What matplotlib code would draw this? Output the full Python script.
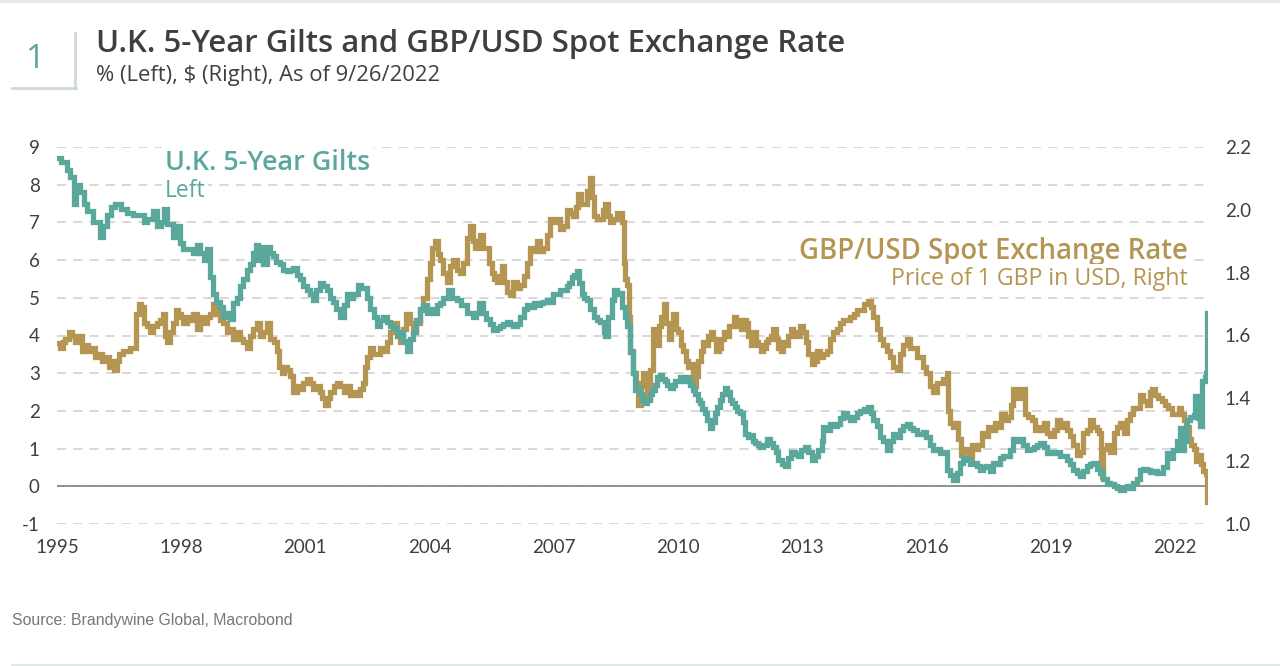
import matplotlib
matplotlib.use("Agg")
import matplotlib.pyplot as plt
from matplotlib.lines import Line2D

# ---------------- data ----------------
gilt_dates = [
    1995.0, 1995.1, 1995.24, 1995.32, 1995.4, 1995.45, 1995.56, 1995.65, 1995.72, 1995.88,
    1996.04, 1996.12, 1996.2, 1996.3, 1996.4, 1996.55, 1996.69, 1996.84, 1997.0, 1997.1,
    1997.17, 1997.33, 1997.42, 1997.5, 1997.58, 1997.66, 1997.8, 1997.87, 1997.97, 1998.05,
    1998.13, 1998.29, 1998.38, 1998.45, 1998.55, 1998.62, 1998.7, 1998.77, 1998.85, 1998.94,
    1999.02, 1999.1, 1999.18, 1999.26, 1999.35, 1999.42, 1999.5, 1999.58, 1999.66, 1999.74,
    1999.8, 1999.86, 1999.92, 1999.98, 2000.07, 2000.15, 2000.22, 2000.3, 2000.38, 2000.46,
    2000.55, 2000.62, 2000.71, 2000.79, 2000.87, 2000.95, 2001.03, 2001.11, 2001.19, 2001.25,
    2001.35, 2001.43, 2001.51, 2001.59, 2001.67, 2001.75, 2001.83, 2001.92, 2002.0, 2002.08,
    2002.15, 2002.28, 2002.34, 2002.4, 2002.48, 2002.56, 2002.65, 2002.73, 2002.81, 2002.87,
    2002.96, 2003.04, 2003.12, 2003.2, 2003.28, 2003.36, 2003.45, 2003.52, 2003.6, 2003.68,
    2003.77, 2003.85, 2003.93, 2004.0, 2004.09, 2004.17, 2004.25, 2004.33, 2004.45, 2004.55,
    2004.65, 2004.75, 2004.9, 2005.05, 2005.13, 2005.2, 2005.28, 2005.37, 2005.45, 2005.53,
    2005.62, 2005.7, 2005.78, 2005.86, 2005.94, 2006.02, 2006.1, 2006.18, 2006.27, 2006.35,
    2006.43, 2006.51, 2006.59, 2006.67, 2006.75, 2006.83, 2006.91, 2006.99, 2007.07, 2007.15,
    2007.23, 2007.31, 2007.37, 2007.43, 2007.49, 2007.55, 2007.61, 2007.67, 2007.73, 2007.79,
    2007.88, 2007.96, 2008.04, 2008.12, 2008.2, 2008.24, 2008.32, 2008.4, 2008.46, 2008.52,
    2008.6, 2008.65, 2008.72, 2008.77, 2008.84, 2008.9, 2008.96, 2009.02, 2009.08, 2009.14,
    2009.2, 2009.26, 2009.32, 2009.38, 2009.44, 2009.5, 2009.56, 2009.62, 2009.68, 2009.74,
    2009.8, 2009.87, 2009.93, 2010.05, 2010.11, 2010.17, 2010.23, 2010.29, 2010.35, 2010.41,
    2010.47, 2010.53, 2010.59, 2010.65, 2010.71, 2010.77, 2010.83, 2010.89, 2010.95, 2011.01,
    2011.07, 2011.13, 2011.19, 2011.25, 2011.31, 2011.37, 2011.43, 2011.5, 2011.56, 2011.62,
    2011.68, 2011.74, 2011.8, 2011.86, 2011.92, 2011.98, 2012.06, 2012.14, 2012.22, 2012.3,
    2012.36, 2012.42, 2012.5, 2012.58, 2012.66, 2012.74, 2012.82, 2012.9, 2012.98, 2013.07,
    2013.15, 2013.23, 2013.31, 2013.39, 2013.47, 2013.51, 2013.59, 2013.67, 2013.75, 2013.83,
    2013.91, 2013.99, 2014.08, 2014.16, 2014.24, 2014.32, 2014.4, 2014.48, 2014.54, 2014.6,
    2014.66, 2014.72, 2014.8, 2014.88, 2014.96, 2015.04, 2015.12, 2015.2, 2015.28, 2015.36,
    2015.44, 2015.52, 2015.6, 2015.68, 2015.76, 2015.84, 2015.92, 2016.0, 2016.08, 2016.17,
    2016.25, 2016.33, 2016.41, 2016.49, 2016.57, 2016.65, 2016.73, 2016.81, 2016.89, 2016.97,
    2017.05, 2017.13, 2017.21, 2017.29, 2017.37, 2017.45, 2017.53, 2017.61, 2017.69, 2017.77,
    2017.85, 2017.94, 2018.02, 2018.1, 2018.18, 2018.26, 2018.34, 2018.42, 2018.5, 2018.59,
    2018.67, 2018.75, 2018.83, 2018.91, 2018.99, 2019.07, 2019.15, 2019.23, 2019.31, 2019.39,
    2019.47, 2019.55, 2019.63, 2019.71, 2019.79, 2019.87, 2019.95, 2020.03, 2020.11, 2020.19,
    2020.27, 2020.36, 2020.44, 2020.52, 2020.6, 2020.68, 2020.76, 2020.84, 2020.92, 2021.0,
    2021.08, 2021.16, 2021.24, 2021.32, 2021.4, 2021.48, 2021.56, 2021.64, 2021.72, 2021.8,
    2021.88, 2021.96, 2022.05, 2022.13, 2022.17, 2022.21, 2022.29, 2022.37, 2022.45, 2022.49,
    2022.55, 2022.6, 2022.65, 2022.72, 2022.76, 2022.78,
]
gilt_values = [
    8.7, 8.6, 8.4, 8.2, 7.5, 8.0, 7.8, 7.5, 7.3, 7.0,
    6.6, 6.9, 7.2, 7.4, 7.5, 7.35, 7.25, 7.2, 7.2, 7.0,
    7.1, 7.3, 6.9, 7.0, 7.35, 6.95, 6.6, 6.9, 6.45, 6.3,
    6.3, 6.2, 6.4, 6.2, 6.0, 6.3, 5.55, 5.1, 4.9, 4.75,
    4.5, 4.6, 4.45, 4.85, 5.0, 5.3, 5.5, 5.75, 5.9, 6.2,
    6.4, 6.0, 6.35, 5.9, 6.35, 6.2, 6.1, 5.95, 5.9, 5.75,
    5.7, 5.75, 5.8, 5.6, 5.5, 5.3, 5.2, 5.1, 4.95, 5.2,
    5.4, 5.3, 5.2, 5.0, 4.9, 4.7, 4.5, 4.8, 5.1, 5.0,
    5.1, 5.35, 5.25, 5.25, 5.0, 4.7, 4.5, 4.25, 4.4, 4.5,
    4.35, 4.25, 4.2, 4.0, 4.1, 3.85, 3.6, 3.9, 4.1, 4.4,
    4.7, 4.8, 4.6, 4.7, 4.6, 4.8, 4.85, 5.0, 5.2, 5.0,
    4.95, 4.8, 4.6, 4.5, 4.6, 4.85, 4.6, 4.45, 4.3, 4.15,
    4.2, 4.25, 4.3, 4.35, 4.3, 4.25, 4.3, 4.5, 4.7, 4.8,
    4.75, 4.85, 4.8, 4.85, 4.9, 4.95, 4.9, 5.1, 5.1, 5.2,
    5.2, 5.3, 5.4, 5.55, 5.6, 5.7, 5.4, 5.1, 5.0, 4.95,
    4.7, 4.5, 4.4, 4.35, 4.1, 4.0, 4.5, 4.95, 5.2, 5.1,
    5.13, 4.75, 4.5, 4.25, 3.55, 3.0, 2.55, 2.6, 2.45, 2.3,
    2.2, 2.3, 2.45, 2.55, 2.7, 2.9, 2.95, 2.85, 2.8, 2.7,
    2.6, 2.7, 2.8, 2.9, 2.8, 2.9, 2.8, 2.7, 2.55, 2.45,
    2.3, 2.2, 2.05, 1.95, 1.75, 1.55, 1.7, 1.95, 2.1, 2.3,
    2.45, 2.6, 2.5, 2.3, 2.2, 2.1, 2.0, 1.95, 1.7, 1.4,
    1.3, 1.35, 1.2, 1.15, 1.1, 1.05, 1.1, 1.25, 1.15, 1.05,
    0.9, 0.7, 0.6, 0.55, 0.75, 0.9, 0.85, 0.8, 0.95, 1.05,
    0.9, 0.7, 0.8, 0.95, 1.2, 1.58, 1.5, 1.65, 1.6, 1.65,
    1.8, 1.95, 1.85, 1.75, 1.85, 1.95, 2.0, 2.05, 2.0, 2.1,
    1.95, 1.75, 1.6, 1.3, 1.2, 0.97, 1.2, 1.4, 1.3, 1.5,
    1.6, 1.65, 1.55, 1.5, 1.4, 1.4, 1.45, 1.3, 1.1, 0.97,
    1.0, 0.88, 0.9, 0.44, 0.3, 0.18, 0.35, 0.62, 0.75, 0.7,
    0.6, 0.62, 0.55, 0.44, 0.5, 0.53, 0.4, 0.62, 0.6, 0.75,
    0.8, 0.8, 0.95, 1.25, 1.2, 1.25, 1.1, 0.97, 1.0, 1.05,
    1.1, 1.15, 1.05, 0.88, 0.9, 0.88, 0.9, 0.8, 0.8, 0.7,
    0.6, 0.44, 0.35, 0.27, 0.4, 0.53, 0.58, 0.62, 0.45, 0.35,
    0.2, 0.09, 0.05, 0.0, -0.05, -0.09, -0.05, 0.0, -0.05, 0.09,
    0.2, 0.44, 0.45, 0.44, 0.38, 0.4, 0.35, 0.35, 0.5, 0.88,
    0.75, 0.97, 1.2, 1.55, 0.95, 1.2, 1.75, 1.85, 1.9, 2.4,
    1.8, 1.6, 2.8, 2.9, 3.0, 4.6,
]

gbp_dates = [
    1995.0, 1995.08, 1995.14, 1995.2, 1995.3, 1995.37, 1995.44, 1995.52, 1995.6, 1995.68,
    1995.76, 1995.84, 1995.92, 1996.0, 1996.08, 1996.16, 1996.25, 1996.31, 1996.37, 1996.44,
    1996.5, 1996.6, 1996.69, 1996.76, 1996.84, 1996.9, 1996.97, 1997.04, 1997.1, 1997.18,
    1997.25, 1997.33, 1997.41, 1997.49, 1997.57, 1997.62, 1997.65, 1997.72, 1997.81, 1997.87,
    1997.93, 1998.0, 1998.05, 1998.13, 1998.21, 1998.29, 1998.37, 1998.45, 1998.53, 1998.62,
    1998.7, 1998.76, 1998.81, 1998.88, 1998.94, 1999.02, 1999.1, 1999.18, 1999.26, 1999.34,
    1999.42, 1999.5, 1999.58, 1999.66, 1999.74, 1999.82, 1999.9, 1999.98, 2000.07, 2000.15,
    2000.23, 2000.31, 2000.37, 2000.43, 2000.49, 2000.55, 2000.63, 2000.71, 2000.79, 2000.87,
    2000.95, 2001.03, 2001.11, 2001.19, 2001.27, 2001.35, 2001.41, 2001.47, 2001.54, 2001.6,
    2001.68, 2001.76, 2001.84, 2001.92, 2002.0, 2002.08, 2002.16, 2002.24, 2002.32, 2002.4,
    2002.44, 2002.48, 2002.56, 2002.64, 2002.73, 2002.81, 2002.89, 2002.96, 2003.04, 2003.12,
    2003.2, 2003.28, 2003.36, 2003.44, 2003.52, 2003.6, 2003.68, 2003.77, 2003.85, 2003.93,
    2004.0, 2004.05, 2004.12, 2004.2, 2004.25, 2004.33, 2004.41, 2004.49, 2004.57, 2004.65,
    2004.73, 2004.81, 2004.9, 2004.98, 2005.04, 2005.1, 2005.16, 2005.22, 2005.3, 2005.37,
    2005.44, 2005.5, 2005.56, 2005.62, 2005.68, 2005.74, 2005.8, 2005.86, 2005.94, 2006.02,
    2006.1, 2006.18, 2006.27, 2006.35, 2006.43, 2006.51, 2006.59, 2006.67, 2006.75, 2006.83,
    2006.91, 2006.99, 2007.07, 2007.15, 2007.23, 2007.31, 2007.39, 2007.47, 2007.53, 2007.59,
    2007.65, 2007.72, 2007.8, 2007.88, 2007.93, 2007.96, 2008.04, 2008.12, 2008.18, 2008.24,
    2008.3, 2008.36, 2008.44, 2008.52, 2008.6, 2008.65, 2008.69, 2008.73, 2008.77, 2008.82,
    2008.85, 2008.92, 2008.98, 2009.04, 2009.1, 2009.16, 2009.24, 2009.32, 2009.4, 2009.46,
    2009.53, 2009.59, 2009.65, 2009.71, 2009.77, 2009.83, 2009.89, 2009.95, 2010.01, 2010.07,
    2010.13, 2010.19, 2010.25, 2010.31, 2010.37, 2010.43, 2010.49, 2010.55, 2010.61, 2010.67,
    2010.73, 2010.79, 2010.85, 2010.92, 2010.98, 2011.04, 2011.1, 2011.16, 2011.22, 2011.28,
    2011.34, 2011.4, 2011.46, 2011.52, 2011.58, 2011.64, 2011.7, 2011.76, 2011.82, 2011.88,
    2011.94, 2012.0, 2012.06, 2012.12, 2012.18, 2012.24, 2012.3, 2012.36, 2012.42, 2012.48,
    2012.54, 2012.6, 2012.66, 2012.72, 2012.78, 2012.86, 2012.95, 2013.02, 2013.08, 2013.15,
    2013.23, 2013.29, 2013.35, 2013.43, 2013.51, 2013.59, 2013.67, 2013.75, 2013.83, 2013.91,
    2013.99, 2014.08, 2014.16, 2014.24, 2014.32, 2014.4, 2014.48, 2014.54, 2014.6, 2014.66,
    2014.72, 2014.8, 2014.88, 2014.96, 2015.04, 2015.12, 2015.2, 2015.28, 2015.36, 2015.44,
    2015.52, 2015.6, 2015.68, 2015.76, 2015.84, 2015.92, 2016.0, 2016.08, 2016.17, 2016.25,
    2016.33, 2016.41, 2016.49, 2016.51, 2016.57, 2016.65, 2016.71, 2016.77, 2016.83, 2016.89,
    2016.97, 2017.03, 2017.09, 2017.17, 2017.25, 2017.33, 2017.41, 2017.49, 2017.57, 2017.65,
    2017.73, 2017.81, 2017.89, 2017.97, 2018.04, 2018.1, 2018.18, 2018.26, 2018.3, 2018.38,
    2018.46, 2018.54, 2018.62, 2018.71, 2018.77, 2018.83, 2018.91, 2018.99, 2019.07, 2019.15,
    2019.23, 2019.31, 2019.39, 2019.47, 2019.55, 2019.63, 2019.71, 2019.79, 2019.87, 2019.95,
    2020.03, 2020.11, 2020.17, 2020.22, 2020.24, 2020.27, 2020.36, 2020.44, 2020.52, 2020.6,
    2020.68, 2020.76, 2020.84, 2020.92, 2021.0, 2021.08, 2021.16, 2021.24, 2021.32, 2021.4,
    2021.44, 2021.52, 2021.6, 2021.68, 2021.76, 2021.84, 2021.92, 2022.0, 2022.09, 2022.15,
    2022.21, 2022.27, 2022.33, 2022.39, 2022.45, 2022.51, 2022.57, 2022.63, 2022.69, 2022.75,
    2022.78,
]
gbp_values = [
    1.575, 1.56, 1.58, 1.59, 1.61, 1.60, 1.58, 1.60, 1.55, 1.57,
    1.55, 1.56, 1.53, 1.54, 1.52, 1.53, 1.50, 1.52, 1.49, 1.52,
    1.54, 1.55, 1.55, 1.56, 1.56, 1.67, 1.70, 1.69, 1.64, 1.63,
    1.61, 1.63, 1.64, 1.65, 1.67, 1.60, 1.58, 1.61, 1.64, 1.68,
    1.67, 1.66, 1.64, 1.66, 1.65, 1.67, 1.62, 1.66, 1.64, 1.66,
    1.67, 1.70, 1.67, 1.68, 1.65, 1.64, 1.61, 1.62, 1.59, 1.61,
    1.59, 1.58, 1.56, 1.60, 1.62, 1.64, 1.60, 1.61, 1.64, 1.59,
    1.58, 1.55, 1.50, 1.48, 1.50, 1.49, 1.47, 1.42, 1.44, 1.43,
    1.45, 1.46, 1.45, 1.43, 1.44, 1.42, 1.40, 1.38, 1.40, 1.42,
    1.44, 1.45, 1.44, 1.42, 1.44, 1.41, 1.42, 1.41, 1.43, 1.45,
    1.50, 1.53, 1.56, 1.54, 1.54, 1.56, 1.55, 1.58, 1.61, 1.64,
    1.61, 1.58, 1.62, 1.67, 1.64, 1.61, 1.64, 1.68, 1.72, 1.78,
    1.83, 1.88, 1.90, 1.86, 1.84, 1.80, 1.77, 1.82, 1.84, 1.81,
    1.80, 1.83, 1.91, 1.95, 1.90, 1.88, 1.90, 1.92, 1.88, 1.88,
    1.83, 1.80, 1.78, 1.77, 1.79, 1.82, 1.77, 1.74, 1.73, 1.77,
    1.75, 1.76, 1.79, 1.83, 1.88, 1.87, 1.90, 1.87, 1.88, 1.92,
    1.97, 1.96, 1.97, 1.94, 1.95, 2.00, 1.99, 1.98, 2.01, 2.05,
    2.02, 2.02, 2.06, 2.10, 2.04, 1.98, 1.97, 1.97, 2.00, 2.02,
    1.98, 1.96, 1.97, 1.99, 1.99, 1.96, 1.83, 1.78, 1.76, 1.66,
    1.55, 1.48, 1.45, 1.38, 1.44, 1.48, 1.40, 1.49, 1.62, 1.57,
    1.63, 1.66, 1.70, 1.64, 1.59, 1.63, 1.67, 1.62, 1.61, 1.57,
    1.55, 1.52, 1.50, 1.51, 1.44, 1.47, 1.52, 1.55, 1.58, 1.57,
    1.60, 1.61, 1.59, 1.55, 1.56, 1.59, 1.61, 1.60, 1.63, 1.63,
    1.66, 1.63, 1.65, 1.62, 1.65, 1.64, 1.60, 1.57, 1.61, 1.58,
    1.57, 1.55, 1.56, 1.58, 1.59, 1.60, 1.62, 1.59, 1.56, 1.55,
    1.58, 1.57, 1.60, 1.62, 1.61, 1.60, 1.63, 1.61, 1.58, 1.54,
    1.51, 1.52, 1.55, 1.53, 1.54, 1.55, 1.59, 1.61, 1.62, 1.64,
    1.65, 1.65, 1.66, 1.67, 1.68, 1.68, 1.70, 1.70, 1.71, 1.69,
    1.66, 1.62, 1.59, 1.57, 1.55, 1.53, 1.50, 1.49, 1.54, 1.57,
    1.59, 1.56, 1.56, 1.53, 1.53, 1.50, 1.48, 1.44, 1.42, 1.45,
    1.45, 1.46, 1.48, 1.36, 1.32, 1.31, 1.32, 1.27, 1.22, 1.24,
    1.23, 1.21, 1.25, 1.24, 1.25, 1.29, 1.28, 1.31, 1.30, 1.32,
    1.31, 1.35, 1.33, 1.34, 1.38, 1.43, 1.40, 1.41, 1.43, 1.35,
    1.34, 1.33, 1.30, 1.31, 1.30, 1.32, 1.29, 1.28, 1.30, 1.33,
    1.31, 1.32, 1.30, 1.28, 1.25, 1.22, 1.23, 1.29, 1.30, 1.33,
    1.31, 1.30, 1.29, 1.20, 1.15, 1.24, 1.25, 1.23, 1.29, 1.31,
    1.32, 1.29, 1.33, 1.35, 1.37, 1.37, 1.41, 1.39, 1.38, 1.42,
    1.43, 1.41, 1.40, 1.39, 1.38, 1.37, 1.35, 1.35, 1.37, 1.35,
    1.33, 1.31, 1.27, 1.25, 1.24, 1.20, 1.22, 1.19, 1.17, 1.16,
    1.07,
]

x_ticks = [1995, 1998, 2001, 2004, 2007, 2010, 2013, 2016, 2019, 2022]
left_ticks = [-1, 0, 1, 2, 3, 4, 5, 6, 7, 8, 9]
right_ticks = [1.0, 1.2, 1.4, 1.6, 1.8, 2.0, 2.2]

TITLE = "U.K. 5-Year Gilts and GBP/USD Spot Exchange Rate"
SUBTITLE = "% (Left), $ (Right), As of 9/26/2022"
SOURCE = "Source: Brandywine Global, Macrobond"

# ---------------- style ----------------
TEAL = "#5aa79b"
GOLD = "#b59552"
TXT = "#3f3f3f"
GRID = "#d6d6d6"
plt.rcParams["font.family"] = ["Lato", "DejaVu Sans"]
HEAD = ["Open Sans", "DejaVu Sans"]

W, H = 1280, 666
fig = plt.figure(figsize=(W / 100, H / 100), dpi=100)

def fx(px):
    return px / W

def fy(py):
    return 1 - py / H

ax = fig.add_axes([fx(57), fy(524), fx(1208) - fx(57), fy(147) - fy(524)])
ax2 = ax.twinx()
ax3 = ax.twinx()

for a in (ax, ax2, ax3):
    for s in a.spines.values():
        s.set_visible(False)
    a.set_xlim(1995.0, 2022.8)

ax.set_ylim(-1, 9)
ax3.set_ylim(-1, 9)
ax2.set_ylim(1.0, 2.2)

ax.set_yticks(left_ticks)
ax.set_yticklabels([str(v) for v in left_ticks])
ax.set_xticks(x_ticks)
ax.set_xticklabels([str(v) for v in x_ticks])
ax2.set_yticks(right_ticks)
ax2.set_yticklabels([f"{v:.1f}" for v in right_ticks])
ax3.set_yticks([])

ax.tick_params(axis="y", length=0, pad=12.5, labelsize=13.5, labelcolor=TXT)
ax.tick_params(axis="x", length=0, pad=11, labelsize=13.5, labelcolor=TXT)
ax2.tick_params(axis="y", length=0, pad=12, labelsize=13.5, labelcolor=TXT)

ax.yaxis.grid(True, color=GRID, linestyle=(0, (5, 4)), linewidth=1.3)
ax.xaxis.grid(False)
ax.set_axisbelow(True)
ax.axhline(0, color="#8a8a8a", linewidth=1.3, zorder=2)

ax2.plot(gbp_dates, gbp_values, color=GOLD, linewidth=3.8, solid_joinstyle="miter",
         drawstyle="steps-post", zorder=3)
ax3.plot(gilt_dates, gilt_values, color=TEAL, linewidth=3.8, solid_joinstyle="miter",
         drawstyle="steps-post", zorder=3)

# series labels (white boxes hide the grid behind them)
box = dict(facecolor="white", edgecolor="none", pad=2)
ax.text(fx(165), fy(163), "U.K. 5-Year Gilts", transform=fig.transFigure, color=TEAL,
        fontsize=19.4, fontweight="semibold", family=HEAD, ha="left", va="center",
        zorder=5, bbox=box)
ax.text(fx(165), fy(191), "Left", transform=fig.transFigure, color=TEAL,
        fontsize=16.5, family=HEAD, ha="left", va="center", zorder=5, bbox=box)
ax.text(fx(1188), fy(251), "GBP/USD Spot Exchange Rate", transform=fig.transFigure,
        color=GOLD, fontsize=19.8, fontweight="semibold", family=HEAD, ha="right",
        va="center", zorder=5, bbox=box)
ax.text(fx(1188), fy(279), "Price of 1 GBP in USD, Right", transform=fig.transFigure,
        color=GOLD, fontsize=16.7, family=HEAD, ha="right", va="center", zorder=5, bbox=box)

# header
fig.text(fx(96), fy(44), TITLE, color=TXT, fontsize=22.4, fontweight="semibold",
         family=HEAD, ha="left", va="center")
fig.text(fx(96), fy(75), SUBTITLE, color=TXT, fontsize=15.8, family=HEAD,
         ha="left", va="center")
fig.text(fx(36), fy(60), "1", color=TEAL, fontsize=24, family=HEAD, ha="center", va="center")
deco = "#cfdcd6"
fig.add_artist(Line2D([fx(75), fx(75)], [fy(33), fy(88)], color=deco, linewidth=2))
fig.add_artist(Line2D([fx(12), fx(76)], [fy(88), fy(88)], color=deco, linewidth=2))
fig.add_artist(Line2D([0, 1], [fy(1), fy(1)], color="#e2e9e6", linewidth=2))
fig.add_artist(Line2D([fx(12), 1], [fy(665), fy(665)], color="#e2e9e6", linewidth=1.5))

fig.text(fx(12), fy(621), SOURCE, color="#777777", fontsize=11.4,
         family=["Liberation Sans", "DejaVu Sans"], ha="left", va="center")

fig.savefig("out.png", dpi=100, facecolor="white")
